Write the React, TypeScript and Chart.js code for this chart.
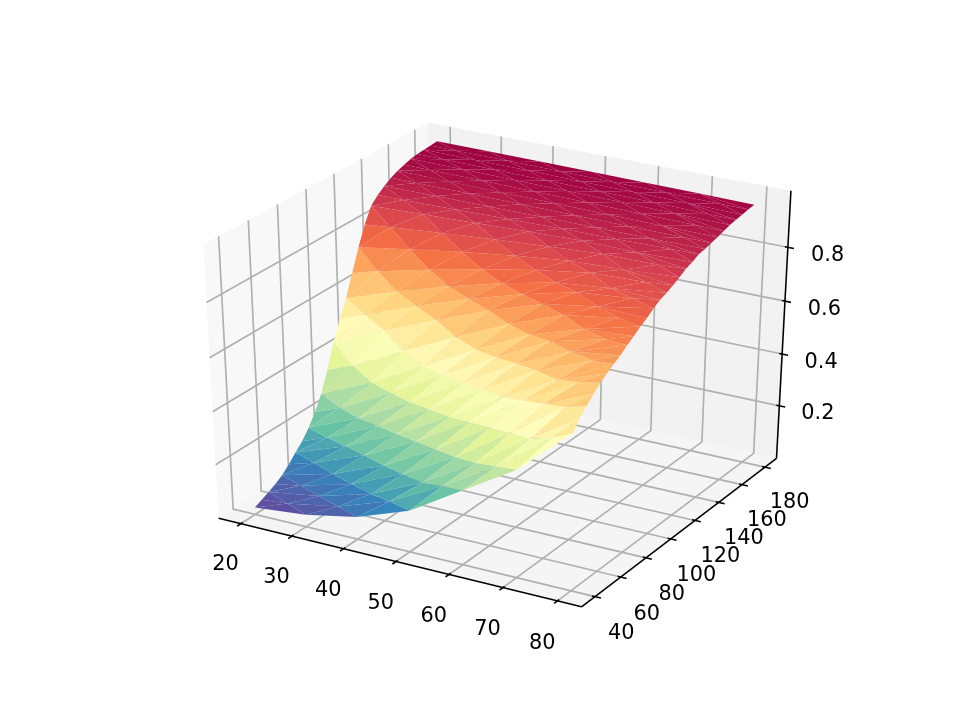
import React, { useEffect, useRef } from "react";
import { Chart, registerables } from "chart.js";

Chart.register(...registerables);

const yGrid = [40, 45, 50, 55, 60, 65, 70, 75, 80, 85, 90, 95, 100, 105, 110, 115, 120, 125, 130, 135, 140, 145, 150, 155, 160, 165, 170, 175, 180];
const xEvenRow = [20, 30, 40, 50, 60, 70, 80];
const xOddRow = [20, 25, 35, 45, 55, 65, 75, 80];
const zRows = [
  [0.02, 0.039, 0.079, 0.15, 0.274, 0.397, 0.575],
  [0.032, 0.042, 0.077, 0.145, 0.25, 0.37, 0.52, 0.615],
  [0.045, 0.077, 0.132, 0.222, 0.342, 0.477, 0.64],
  [0.059, 0.075, 0.129, 0.214, 0.324, 0.457, 0.597, 0.667],
  [0.077, 0.127, 0.206, 0.312, 0.438, 0.57, 0.69],
  [0.101, 0.13, 0.205, 0.303, 0.42, 0.544, 0.655, 0.708],
  [0.13, 0.2, 0.292, 0.401, 0.519, 0.625, 0.725],
  [0.157, 0.194, 0.283, 0.391, 0.507, 0.621, 0.7, 0.74],
  [0.192, 0.275, 0.379, 0.494, 0.609, 0.695, 0.76],
  [0.237, 0.275, 0.376, 0.487, 0.595, 0.695, 0.745, 0.776],
  [0.292, 0.377, 0.482, 0.587, 0.683, 0.745, 0.795],
  [0.367, 0.405, 0.502, 0.597, 0.685, 0.759, 0.79, 0.81],
  [0.457, 0.542, 0.623, 0.699, 0.763, 0.795, 0.83],
  [0.527, 0.566, 0.639, 0.705, 0.763, 0.811, 0.83, 0.845],
  [0.592, 0.657, 0.717, 0.768, 0.811, 0.83, 0.855],
  [0.672, 0.697, 0.743, 0.784, 0.821, 0.851, 0.858, 0.866],
  [0.752, 0.784, 0.813, 0.838, 0.86, 0.868, 0.88],
  [0.822, 0.831, 0.848, 0.863, 0.877, 0.889, 0.89, 0.895],
  [0.877, 0.884, 0.89, 0.897, 0.903, 0.9, 0.905],
  [0.902, 0.903, 0.906, 0.909, 0.912, 0.914, 0.917, 0.918],
  [0.922, 0.922, 0.922, 0.922, 0.922, 0.922, 0.922],
  [0.938, 0.937, 0.936, 0.935, 0.933, 0.931, 0.93, 0.929],
  [0.95, 0.948, 0.945, 0.943, 0.94, 0.938, 0.935],
  [0.959, 0.958, 0.956, 0.953, 0.951, 0.948, 0.945, 0.943],
  [0.967, 0.965, 0.963, 0.96, 0.957, 0.954, 0.95],
  [0.971, 0.97, 0.968, 0.966, 0.963, 0.96, 0.957, 0.955],
  [0.974, 0.972, 0.971, 0.968, 0.966, 0.963, 0.959],
  [0.976, 0.975, 0.974, 0.972, 0.97, 0.968, 0.965, 0.964],
  [0.978, 0.977, 0.976, 0.974, 0.972, 0.97, 0.967],
];
const xTicks = [20, 30, 40, 50, 60, 70, 80];
const yTicks = [40, 60, 80, 100, 120, 140, 160, 180];
const zTicks = [0.2, 0.4, 0.6, 0.8];
const zTickLabels = ["0.2", "0.4", "0.6", "0.8"];
const spectralR = [
  [94, 79, 162], [50, 136, 189], [102, 194, 165], [171, 221, 164], [230, 245, 152],
  [255, 255, 191], [254, 224, 139], [253, 174, 97], [244, 109, 67], [213, 62, 79], [158, 1, 66],
];

type V3 = [number, number, number];

const rowXs = (r: number) => (r % 2 === 0 ? xEvenRow : xOddRow);

function limits(lo: number, hi: number, margin: number): [number, number] {
  const m = (hi - lo) * margin;
  return [lo - m, hi + m];
}
const allZ = zRows.flat();
const xLim = limits(xEvenRow[0], xEvenRow[xEvenRow.length - 1], 0.05);
const yLim = limits(yGrid[0], yGrid[yGrid.length - 1], 0.05);
const zLim = limits(Math.min(...allZ), Math.max(...allZ), 0.007);
const lims = [xLim, yLim, zLim];
const deltas = lims.map((l) => (l[1] - l[0]) / 12);
const lo = lims.map((l, i) => l[0] - deltas[i] / 4);
const hi = lims.map((l, i) => l[1] + deltas[i] / 4);

const DIST = 10;
const ELEV = (30 * Math.PI) / 180;
const AZIM = (-60 * Math.PI) / 180;
const eye: V3 = [
  0.5 + Math.cos(AZIM) * Math.cos(ELEV) * DIST,
  0.5 + Math.sin(AZIM) * Math.cos(ELEV) * DIST,
  0.5 + Math.sin(ELEV) * DIST,
];
const dot = (a: number[], b: number[]) => a[0] * b[0] + a[1] * b[1] + a[2] * b[2];
const cross = (a: number[], b: number[]): V3 => [
  a[1] * b[2] - a[2] * b[1],
  a[2] * b[0] - a[0] * b[2],
  a[0] * b[1] - a[1] * b[0],
];
const unit = (a: number[]): V3 => {
  const n = Math.sqrt(dot(a, a));
  return [a[0] / n, a[1] / n, a[2] / n];
};
const nVec = unit([eye[0] - 0.5, eye[1] - 0.5, eye[2] - 0.5]);
const uVec = unit(cross([0, 0, 1], nVec));
const vVec = cross(nVec, uVec);

function project(p: V3) {
  const w = p.map((c, i) => (c - lims[i][0]) / (lims[i][1] - lims[i][0]));
  const d = [w[0] - eye[0], w[1] - eye[1], w[2] - eye[2]];
  const vz = dot(nVec, d);
  return { x: dot(uVec, d) / -vz, y: dot(vVec, d) / -vz, depth: vz };
}

function cmap(t: number) {
  const f = Math.max(0, Math.min(1, t)) * (spectralR.length - 1);
  const i = Math.min(Math.floor(f), spectralR.length - 2);
  const a = spectralR[i];
  const b = spectralR[i + 1];
  const k = f - i;
  return `rgb(${[0, 1, 2].map((c) => Math.round(a[c] + (b[c] - a[c]) * k)).join(",")})`;
}

function lineSet(points: V3[], color: string, width: number) {
  return {
    type: "scatter" as const,
    data: points.map(project),
    showLine: true,
    borderColor: color,
    borderWidth: width,
    pointRadius: 0,
    borderCapStyle: "butt",
    clip: false,
  };
}
function polySet(points: V3[], color: string) {
  return {
    type: "scatter" as const,
    data: points.map(project),
    showLine: false,
    polyFill: color,
    pointRadius: 0,
    clip: false,
  };
}

function buildTriangles() {
  const tris: { pts: V3[]; avg: number; depth: number }[] = [];
  const add = (pts: V3[]) => {
    const avg = (pts[0][2] + pts[1][2] + pts[2][2]) / 3;
    const depth = pts.map(project).reduce((s, p) => s + p.depth, 0) / 3;
    tris.push({ pts, avg, depth });
  };
  for (let r = 0; r < yGrid.length - 1; r++) {
    const ax = rowXs(r);
    const bx = rowXs(r + 1);
    const A = (i: number): V3 => [ax[i], yGrid[r], zRows[r][i]];
    const B = (i: number): V3 => [bx[i], yGrid[r + 1], zRows[r + 1][i]];
    let i = 0;
    let j = 0;
    while (i < ax.length - 1 || j < bx.length - 1) {
      const advanceA = j >= bx.length - 1 || (i < ax.length - 1 && ax[i + 1] <= bx[j + 1]);
      if (advanceA) {
        add([A(i), B(j), A(i + 1)]);
        i++;
      } else {
        add([A(i), B(j), B(j + 1)]);
        j++;
      }
    }
  }
  const min = Math.min(...tris.map((t) => t.avg));
  const max = Math.max(...tris.map((t) => t.avg));
  tris.sort((a, b) => a.depth - b.depth);
  return tris.map((t) => polySet(t.pts, cmap((t.avg - min) / (max - min))));
}

function buildBox() {
  const sets: any[] = [];
  const [x0, y0, z0] = lo;
  const [x1, y1, z1] = hi;
  sets.push(polySet([[x0, y0, z0], [x0, y1, z0], [x0, y1, z1], [x0, y0, z1]], "rgba(242,242,242,0.5)"));
  sets.push(polySet([[x0, y1, z0], [x1, y1, z0], [x1, y1, z1], [x0, y1, z1]], "rgba(230,230,230,0.5)"));
  sets.push(polySet([[x0, y0, z0], [x1, y0, z0], [x1, y1, z0], [x0, y1, z0]], "rgba(236,236,236,0.5)"));
  const grid = "#b0b0b0";
  const gw = 1.67;
  xTicks.forEach((t) => sets.push(lineSet([[t, y0, z0], [t, y1, z0], [t, y1, z1]], grid, gw)));
  yTicks.forEach((t) => sets.push(lineSet([[x1, t, z0], [x0, t, z0], [x0, t, z1]], grid, gw)));
  zTicks.forEach((t) => sets.push(lineSet([[x0, y0, t], [x0, y1, t], [x1, y1, t]], grid, gw)));
  const axisW = 1.56;
  sets.push(lineSet([[x0, y0, z0], [x1, y0, z0]], "#000", axisW));
  sets.push(lineSet([[x1, y0, z0], [x1, y1, z0]], "#000", axisW));
  sets.push(lineSet([[x1, y1, z0], [x1, y1, z1]], "#000", axisW));
  const [dx, dy] = deltas;
  xTicks.forEach((t) => sets.push(lineSet([[t, y0 + 0.1 * dy, z0], [t, y0 - 0.2 * dy, z0]], "#000", axisW)));
  yTicks.forEach((t) => sets.push(lineSet([[x1 - 0.1 * dx, t, z0], [x1 + 0.2 * dx, t, z0]], "#000", axisW)));
  zTicks.forEach((t) => sets.push(lineSet([[x1 - 0.1 * dx, y1, t], [x1 + 0.2 * dx, y1, t]], "#000", axisW)));
  return sets;
}

const LABEL_DELTA = 0.886;
const LABEL_DROP = 12;
function buildLabels() {
  const [x0, y0, z0] = lo;
  const [x1, y1] = hi;
  const [dx, dy, dz] = deltas;
  const k = LABEL_DELTA;
  const out: { text: string; at: { x: number; y: number } }[] = [];
  xTicks.forEach((t) => out.push({ text: String(t), at: project([t, y0 - k * dy, z0 - k * dz]) }));
  yTicks.forEach((t) => out.push({ text: String(t), at: project([x1 + k * dx, t, z0 - k * dz]) }));
  zTicks.forEach((t, i) => out.push({ text: zTickLabels[i], at: project([x1 + k * dx, y1 + k * dy, t]) }));
  return out;
}

const polyPlugin = {
  id: "polyFill",
  beforeDatasetDraw(chart: any, args: any) {
    const ds = chart.data.datasets[args.index];
    if (!ds.polyFill) return;
    const pts = args.meta.data;
    const ctx = chart.ctx;
    ctx.save();
    ctx.beginPath();
    pts.forEach((p: any, i: number) => (i ? ctx.lineTo(p.x, p.y) : ctx.moveTo(p.x, p.y)));
    ctx.closePath();
    ctx.fillStyle = ds.polyFill;
    ctx.fill();
    ctx.restore();
  },
};

const labelPlugin = {
  id: "tickText",
  afterDraw(chart: any) {
    const ctx = chart.ctx;
    const sx = chart.scales.x;
    const sy = chart.scales.y;
    ctx.save();
    ctx.font = '20.83px "DejaVu Sans"';
    ctx.fillStyle = "#000";
    ctx.textAlign = "center";
    ctx.textBaseline = "middle";
    buildLabels().forEach((l) => {
      ctx.fillText(l.text, sx.getPixelForValue(l.at.x), sy.getPixelForValue(l.at.y) + LABEL_DROP);
    });
    ctx.restore();
  },
};

export default function App() {
  const ref = useRef<HTMLCanvasElement>(null);
  useEffect(() => {
    document.body.style.margin = "0";
    const drawn = [...buildBox(), ...buildTriangles()];
    const datasets = drawn.reverse();
    const chart = new Chart(ref.current as HTMLCanvasElement, {
      type: "scatter",
      data: { datasets: datasets as any },
      options: {
        responsive: false,
        animation: false,
        events: [],
        layout: { padding: { left: 120, right: 96, top: 86.4, bottom: 79.2 } },
        scales: {
          x: { type: "linear", min: -0.095, max: 0.09, display: false },
          y: { type: "linear", min: -0.095, max: 0.09, display: false },
        },
        plugins: { legend: { display: false }, tooltip: { enabled: false } },
      },
      plugins: [polyPlugin, labelPlugin],
    } as any);
    return () => chart.destroy();
  }, []);
  return <canvas ref={ref} width={960} height={720} style={{ display: "block" }} />;
}
